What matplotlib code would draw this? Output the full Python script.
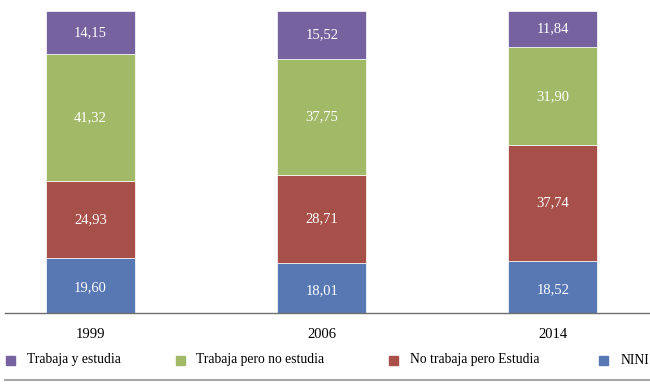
import matplotlib
matplotlib.use("Agg")
import matplotlib.pyplot as plt
from matplotlib.patches import Rectangle
from matplotlib.lines import Line2D
import numpy as np

years = ["1999", "2006", "2014"]
series_names = ["NINI", "No trabaja pero Estudia", "Trabaja pero no estudia", "Trabaja y estudia"]
nini = [19.60, 18.01, 18.52]
no_trabaja_estudia = [24.93, 28.71, 37.74]
trabaja_no_estudia = [41.32, 37.75, 31.90]
trabaja_estudia = [14.15, 15.52, 11.84]
colors = ["#5878B4", "#A7504A", "#A2B967", "#76629E"]

series = [nini, no_trabaja_estudia, trabaja_no_estudia, trabaja_estudia]

plt.rcParams['font.family'] = ['Liberation Serif', 'DejaVu Serif']

fig = plt.figure(figsize=(6.5, 3.9), dpi=100)
ax = fig.add_axes([5/650, 1-313/390, 645/650, (313-11)/390])

x = np.arange(len(years))
bottom = np.zeros(len(years))
for vals, col in zip(series, colors):
    vals = np.array(vals)
    ax.bar(x, vals, width=0.385, bottom=bottom, color=col, edgecolor='white', linewidth=0.5)
    for xi, b, v in zip(x, bottom, vals):
        ax.text(xi, b + v/2, f"{v:.2f}".replace('.', ','), ha='center', va='center',
                color='white', fontsize=10.5)
    bottom += vals

ax.set_xlim(-0.37, 2.42)
ax.set_ylim(1.6, 100)
for s in ['top', 'right', 'left']:
    ax.spines[s].set_visible(False)
ax.spines['bottom'].set_color('#6e6e6e')
ax.spines['bottom'].set_linewidth(1.0)
ax.set_yticks([])
ax.set_xticks(x)
ax.set_xticklabels(years, fontsize=10.5)
ax.tick_params(axis='x', length=0, pad=11)

# legend
leg_order = [3, 2, 1, 0]
marker_x = [6, 176, 389, 599]
text_x = [27, 196, 410, 621]
ly = 360
for i, mx, tx in zip(leg_order, marker_x, text_x):
    fig.patches.append(Rectangle((mx/650, 1-(ly+4.5)/390), 9/650, 9/390,
                                 transform=fig.transFigure, color=colors[i], zorder=3))
    fig.text(tx/650, 1-ly/390, series_names[i], ha='left', va='center', fontsize=9.8)

fig.add_artist(Line2D([5/650, 1.0], [1-380/390, 1-380/390], transform=fig.transFigure,
                      color='#a6a6a6', lw=1.5))

fig.savefig("out.png", dpi=100)
